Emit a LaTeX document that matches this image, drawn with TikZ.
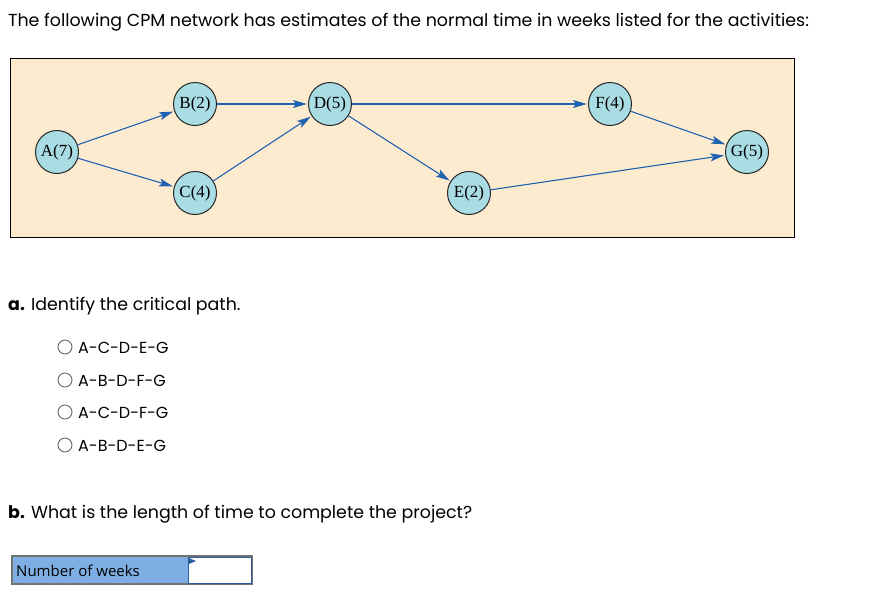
\documentclass[tikz,border=0pt]{standalone}
\usepackage{fontspec}
\setmainfont{Poppins}
\newfontfamily\nodefont{Liberation Serif}
\newfontfamily\boxfont{Open Sans}
\usetikzlibrary{arrows.meta}
\definecolor{boxbg}{HTML}{FDEBD0}
\definecolor{nodebg}{HTML}{A9DCE3}
\definecolor{arrowblue}{HTML}{1F63B0}
\definecolor{labelblue}{HTML}{7EAEE3}
\definecolor{inputblue}{HTML}{2E5E9E}
\begin{document}
\begin{tikzpicture}[x=1pt,y=-1pt]
\useasboundingbox (0,0) rectangle (892,598);
\tikzstyle{vertex}=[circle,draw=black!85,line width=1pt,fill=nodebg,minimum size=43pt,inner sep=0pt,font=\nodefont\fontsize{17}{17}\selectfont]
\tikzstyle{edge}=[draw=arrowblue,line width=1.1pt,-{Stealth[length=14pt,width=8pt,inset=3pt]},shorten >=1pt]
\tikzstyle{txt}=[anchor=base west,inner sep=0pt,font=\fontsize{17.4}{18}\selectfont]
\tikzstyle{opt}=[circle,draw=black!60,line width=0.9pt,minimum size=14pt,inner sep=0pt]
\tikzstyle{choice}=[anchor=west,inner sep=0pt,font=\fontsize{16}{17}\selectfont]
% question text
\node[txt] (title) at (8,26) {The following CPM network has estimates of the normal time in weeks listed for the activities:};
% network
\draw[fill=boxbg,draw=black] (10,58) rectangle (794,237);
\node[vertex](a) at (57,152) {A(7)};
\node[vertex](b) at (195,104) {B(2)};
\node[vertex](c) at (195,193) {C(4)};
\node[vertex](d) at (330,104) {D(5)};
\node[vertex](e) at (469,193) {E(2)};
\node[vertex](f) at (610,104) {F(4)};
\node[vertex](g) at (747,152) {G(5)};
\draw[edge] (a) to (b);
\draw[edge] (a) to (c);
\draw[edge] (b) to (d);
\draw[edge] (c) to (d);
\draw[edge] (d) to (f);
\draw[edge] (d) to (e);
\draw[edge] (f) to (g);
\draw[edge] (e) to (g);
% part a
\node[txt] (qa) at (8,310) {\textbf{a.} Identify the critical path.};
\node[opt] (o1) at (65,347) {};
\node[opt] (o2) at (65,380) {};
\node[opt] (o3) at (65,412) {};
\node[opt] (o4) at (65,445) {};
\node[choice] (t1) at (78,348) {A-C-D-E-G};
\node[choice] (t2) at (78,381) {A-B-D-F-G};
\node[choice] (t3) at (78,413) {A-C-D-F-G};
\node[choice] (t4) at (78,446) {A-B-D-E-G};
% part b
\node[txt] (qb) at (8,518) {\textbf{b.} What is the length of time to complete the project?};
\draw[draw=black!55,fill=labelblue,line width=1.2pt] (12,556) rectangle (252,584);
\node[anchor=west,inner sep=0pt,font=\boxfont\fontsize{15}{15}\selectfont] (lbl) at (16,571) {Number of weeks};
\draw[draw=inputblue,fill=white,line width=1pt] (188.5,557.5) rectangle (251,583);
\fill[inputblue] (189,558) -- (196,561) -- (189,564) -- cycle;
\end{tikzpicture}
\end{document}
